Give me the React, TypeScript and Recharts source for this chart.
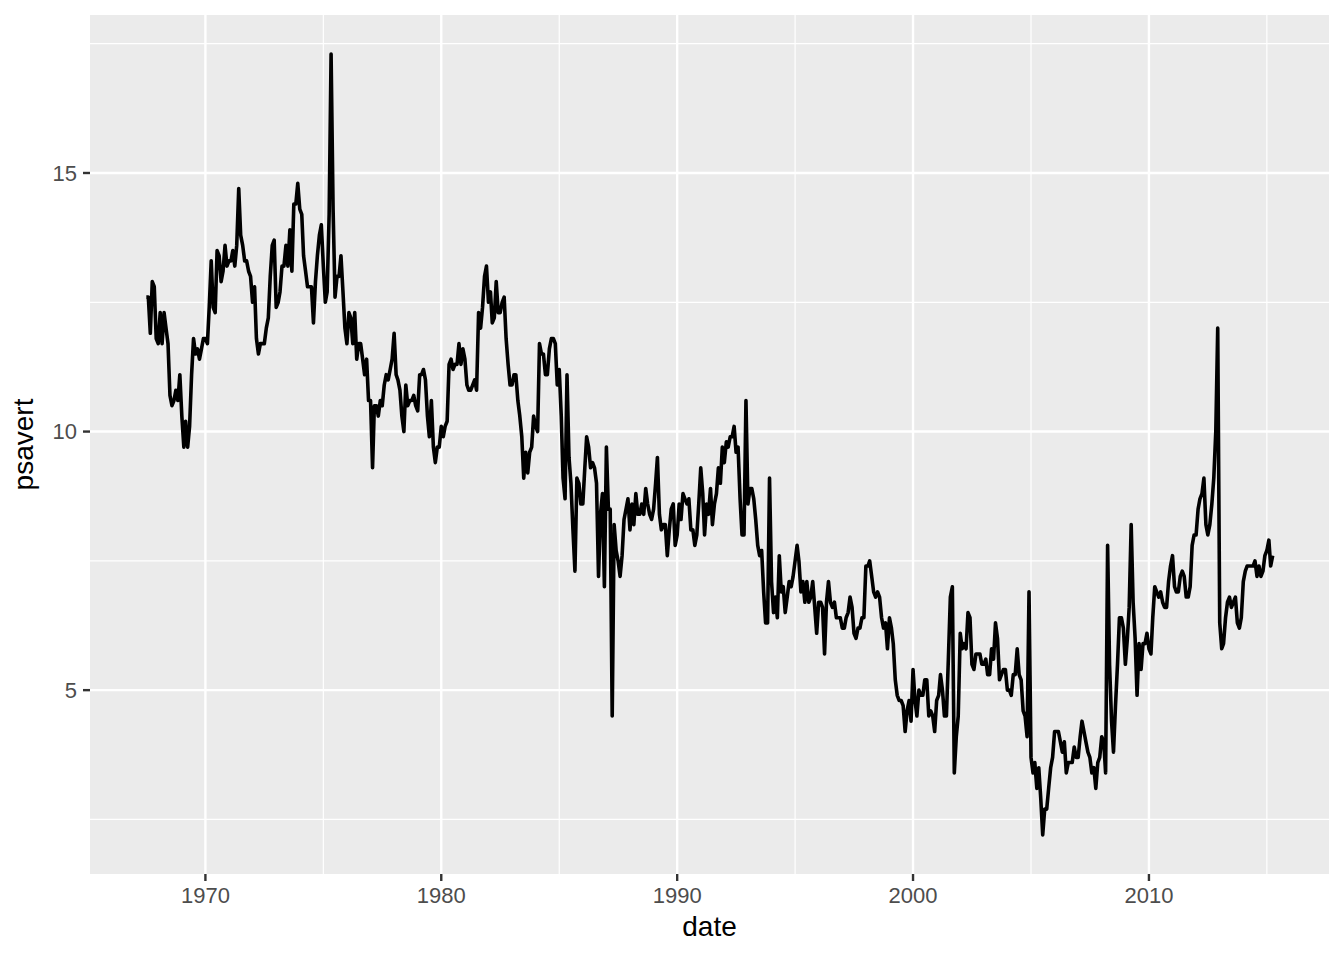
import React from 'react';
import { LineChart, Line, XAxis, YAxis, CartesianGrid } from 'recharts';

// monthly personal savings rate, starting July 1967
const startYear = 1967;
const startMonth = 7;

const psavert1960s = [
  12.6, 12.6, 11.9, 12.9, 12.8, 11.8,
  11.7, 12.3, 11.7, 12.3, 12.0, 11.7, 10.7, 10.5, 10.6, 10.8, 10.6, 11.1,
  10.3, 9.7, 10.2, 9.7, 10.1, 11.1, 11.8, 11.5, 11.6, 11.4, 11.6, 11.8,
];

const psavert1970s = [
  11.8, 11.7, 12.4, 13.3, 12.4, 12.3, 13.5, 13.4, 12.9, 13.1, 13.6, 13.2,
  13.3, 13.3, 13.5, 13.2, 13.6, 14.7, 13.8, 13.6, 13.3, 13.3, 13.1, 13.0,
  12.5, 12.8, 11.8, 11.5, 11.7, 11.7, 11.7, 12.0, 12.2, 13.0, 13.6, 13.7,
  12.4, 12.5, 12.7, 13.2, 13.2, 13.6, 13.2, 13.9, 13.1, 14.4, 14.4, 14.8,
  14.3, 14.2, 13.4, 13.1, 12.8, 12.8, 12.8, 12.1, 12.9, 13.4, 13.8, 14.0,
  13.2, 12.5, 12.7, 14.2, 17.3, 14.3, 12.6, 13.0, 13.0, 13.4, 12.7, 12.0,
  11.7, 12.3, 12.2, 11.7, 12.3, 11.4, 11.7, 11.7, 11.4, 11.1, 11.4, 10.6,
  10.6, 9.3, 10.5, 10.5, 10.3, 10.6, 10.5, 10.9, 11.1, 11.0, 11.2, 11.4,
  11.9, 11.1, 11.0, 10.8, 10.3, 10.0, 10.9, 10.5, 10.6, 10.6, 10.7, 10.5,
  10.4, 11.1, 11.1, 11.2, 11.0, 10.3, 9.9, 10.6, 9.7, 9.4, 9.7, 9.7,
];

const psavert1980s = [
  10.1, 9.9, 10.1, 10.2, 11.3, 11.4, 11.2, 11.3, 11.3, 11.7, 11.3, 11.6,
  11.4, 10.9, 10.8, 10.8, 10.9, 11.0, 10.8, 12.3, 12.0, 12.4, 13.0, 13.2,
  12.5, 12.7, 12.1, 12.2, 12.9, 12.3, 12.3, 12.5, 12.6, 11.8, 11.3, 10.9,
  10.9, 11.1, 11.1, 10.6, 10.3, 9.9, 9.1, 9.6, 9.2, 9.6, 9.7, 10.3,
  10.1, 10.0, 11.7, 11.5, 11.5, 11.1, 11.1, 11.6, 11.8, 11.8, 11.7, 10.9,
  11.2, 10.3, 9.1, 8.7, 11.1, 9.5, 9.0, 8.1, 7.3, 9.1, 9.0, 8.6,
  8.6, 9.3, 9.9, 9.7, 9.3, 9.4, 9.3, 9.0, 7.2, 8.4, 8.8, 7.0,
  9.7, 8.5, 8.5, 4.5, 8.2, 7.7, 7.5, 7.2, 7.6, 8.3, 8.5, 8.7,
  8.1, 8.6, 8.2, 8.8, 8.4, 8.4, 8.6, 8.4, 8.9, 8.6, 8.4, 8.3,
  8.5, 9.0, 9.5, 8.4, 8.1, 8.2, 8.2, 7.6, 8.1, 8.5, 8.6, 7.8,
];

const psavert1990s = [
  8.0, 8.6, 8.3, 8.8, 8.7, 8.6, 8.7, 8.1, 8.1, 7.8, 8.0, 8.6,
  9.3, 8.8, 8.0, 8.6, 8.4, 8.9, 8.2, 8.6, 8.8, 9.3, 9.0, 9.7,
  9.4, 9.8, 9.7, 9.9, 9.9, 10.1, 9.6, 9.7, 8.7, 8.0, 8.0, 10.6,
  8.6, 8.9, 8.9, 8.7, 8.3, 7.8, 7.6, 7.7, 6.9, 6.3, 6.3, 9.1,
  7.1, 6.5, 6.8, 6.4, 7.6, 6.9, 7.0, 6.5, 6.8, 7.1, 7.0, 7.2,
  7.5, 7.8, 7.5, 6.9, 7.1, 6.7, 7.1, 6.7, 6.8, 7.1, 6.6, 6.1,
  6.7, 6.7, 6.6, 5.7, 6.7, 7.1, 6.7, 6.6, 6.7, 6.4, 6.4, 6.4,
  6.2, 6.2, 6.4, 6.5, 6.8, 6.6, 6.1, 6.0, 6.2, 6.2, 6.4, 6.4,
  7.4, 7.4, 7.5, 7.2, 6.9, 6.8, 6.9, 6.8, 6.4, 6.2, 6.3, 5.8,
  6.4, 6.2, 5.9, 5.2, 4.9, 4.8, 4.8, 4.7, 4.2, 4.6, 4.8, 4.4,
];

const psavert2000s = [
  5.4, 4.8, 4.5, 5.0, 4.9, 4.9, 5.2, 5.2, 4.5, 4.6, 4.5, 4.2,
  4.8, 4.9, 5.3, 5.0, 4.5, 4.5, 5.6, 6.8, 7.0, 3.4, 4.1, 4.5,
  6.1, 5.8, 5.9, 5.8, 6.5, 6.4, 5.5, 5.4, 5.7, 5.7, 5.7, 5.5,
  5.5, 5.6, 5.3, 5.3, 5.8, 5.6, 6.3, 6.0, 5.2, 5.3, 5.4, 5.4,
  5.0, 5.0, 4.9, 5.3, 5.3, 5.8, 5.3, 5.2, 4.6, 4.5, 4.1, 6.9,
  3.7, 3.4, 3.6, 3.1, 3.5, 2.9, 2.2, 2.7, 2.7, 3.1, 3.5, 3.7,
  4.2, 4.2, 4.2, 4.0, 3.8, 4.0, 3.4, 3.6, 3.6, 3.6, 3.9, 3.7,
  3.7, 4.1, 4.4, 4.2, 4.0, 3.8, 3.7, 3.4, 3.5, 3.1, 3.6, 3.7,
  4.1, 4.0, 3.4, 7.8, 5.5, 4.4, 3.8, 4.7, 5.5, 6.4, 6.4, 6.2,
  5.5, 6.0, 6.6, 8.2, 6.7, 6.0, 4.9, 5.9, 5.4, 5.9, 5.9, 6.1,
];

const psavert2010s = [
  5.8, 5.7, 6.4, 7.0, 6.9, 6.8, 6.9, 6.7, 6.6, 6.6, 7.1, 7.4,
  7.6, 7.0, 6.9, 6.9, 7.2, 7.3, 7.2, 6.8, 6.8, 7.0, 7.8, 8.0,
  8.0, 8.5, 8.7, 8.8, 9.1, 8.2, 8.0, 8.2, 8.6, 9.1, 10.0, 12.0,
  6.3, 5.8, 5.9, 6.4, 6.7, 6.8, 6.6, 6.7, 6.8, 6.3, 6.2, 6.4,
  7.1, 7.3, 7.4, 7.4, 7.4, 7.4, 7.5, 7.2, 7.4, 7.2, 7.3, 7.6,
  7.7, 7.9, 7.4, 7.6,
];

const xMajorYears = [1970, 1980, 1990, 2000, 2010];
const xMinorYears = [1975, 1985, 1995, 2005, 2015];
const yMajor = [5, 10, 15];
const yMinor = [2.5, 7.5, 12.5, 17.5];

const values = [
  ...psavert1960s,
  ...psavert1970s,
  ...psavert1980s,
  ...psavert1990s,
  ...psavert2000s,
  ...psavert2010s,
];

const data = values.map((psavert, i) => ({
  date: Date.UTC(startYear, startMonth - 1 + i, 1),
  psavert,
}));

// ggplot-style 5% expansion on both scales
const tMin = data[0].date;
const tMax = data[data.length - 1].date;
const tPad = (tMax - tMin) * 0.05;
const vMin = Math.min(...values);
const vMax = Math.max(...values);
const vPad = (vMax - vMin) * 0.05;

const yearToTime = (y: number) => Date.UTC(y, 0, 1);

const font = '"Liberation Sans", Arial, Helvetica, sans-serif';

export default function App() {
  return (
    <div style={{ position: 'absolute', left: 0, top: 0, width: 1344, height: 960, background: '#fff' }}>
      <LineChart
        width={1344}
        height={960}
        data={data}
        margin={{ top: 15, right: 15, bottom: 0, left: 0 }}
      >
        <CartesianGrid
          fill="#EBEBEB"
          fillOpacity={1}
          stroke="#FFFFFF"
          strokeWidth={1.2}
          horizontalValues={yMinor}
          verticalValues={xMinorYears.map(yearToTime)}
        />
        <CartesianGrid
          stroke="#FFFFFF"
          strokeWidth={2.4}
          horizontalValues={yMajor}
          verticalValues={xMajorYears.map(yearToTime)}
        />
        <XAxis
          dataKey="date"
          type="number"
          domain={[tMin - tPad, tMax + tPad]}
          allowDataOverflow
          ticks={xMajorYears.map(yearToTime)}
          interval={0}
          tickFormatter={(v) => String(new Date(v).getUTCFullYear())}
          axisLine={false}
          tickLine={{ stroke: '#333333', strokeWidth: 2.4 }}
          tickSize={7}
          tickMargin={6}
          height={86}
          tick={{ fill: '#4D4D4D', fontSize: 22, fontFamily: font }}
        />
        <YAxis
          type="number"
          domain={[vMin - vPad, vMax + vPad]}
          allowDataOverflow
          ticks={yMajor}
          interval={0}
          axisLine={false}
          tickLine={{ stroke: '#333333', strokeWidth: 2.4 }}
          tickSize={7}
          tickMargin={6}
          width={90}
          tick={{ fill: '#4D4D4D', fontSize: 22, fontFamily: font }}
        />
        <Line
          type="linear"
          dataKey="psavert"
          stroke="#000000"
          strokeWidth={3.6}
          strokeLinejoin="round"
          dot={false}
          activeDot={false}
          isAnimationActive={false}
        />
      </LineChart>
      <svg
        width={1344}
        height={960}
        style={{ position: 'absolute', left: 0, top: 0, pointerEvents: 'none' }}
      >
        <text x={709.5} y={936} textAnchor="middle" fontSize={28} fontFamily={font} fill="#000">
          date
        </text>
        <text
          transform="translate(33, 444.5) rotate(-90)"
          textAnchor="middle"
          fontSize={28}
          fontFamily={font}
          fill="#000"
        >
          psavert
        </text>
      </svg>
    </div>
  );
}
